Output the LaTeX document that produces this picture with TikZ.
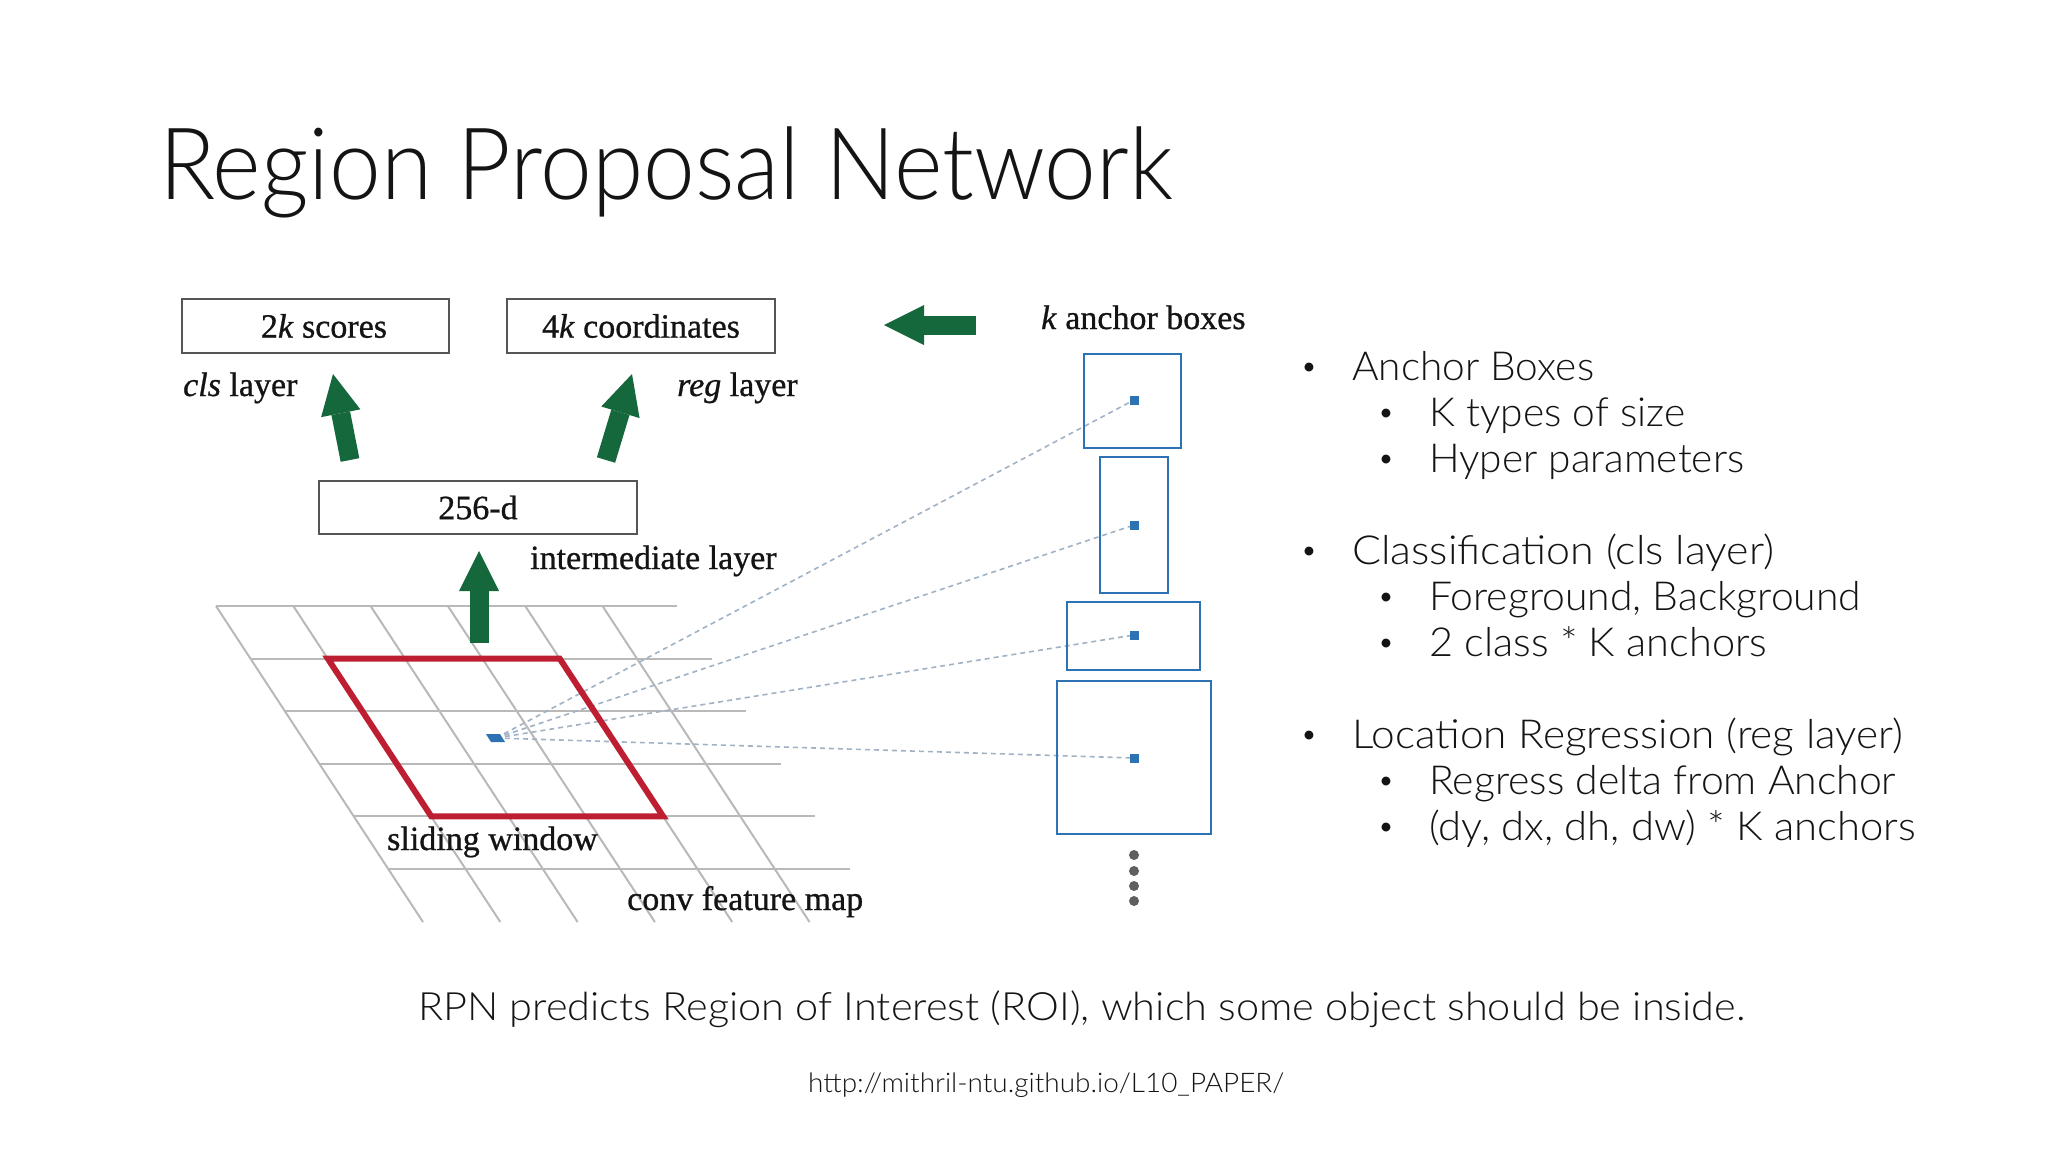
\documentclass[tikz,border=0pt]{standalone}
\usepackage{fontspec}
\usepackage{graphicx}
\setmainfont{Liberation Serif}[RawFeature={embolden=0.8}]
\IfFontExistsTF{Lato Light}{\newfontfamily\slidefont{Lato Light}}{\newfontfamily\slidefont{Lato}}
\usetikzlibrary{arrows.meta}
\definecolor{rpngreen}{RGB}{20,104,60}
\definecolor{winred}{RGB}{190,30,50}
\definecolor{anchorblue}{RGB}{45,115,180}
\definecolor{dashblue}{RGB}{160,178,198}
\definecolor{gridgray}{RGB}{185,185,185}
\definecolor{boxgray}{RGB}{85,85,85}
\definecolor{dotgray}{RGB}{95,95,95}
\definecolor{inkblack}{RGB}{20,20,20}
\newcommand\fitw[2]{\resizebox{#1pt}{\height}{#2}}
\begin{document}
\begin{tikzpicture}[x=1pt,y=1pt,
  serif/.style={font=\fontsize{34}{40}\selectfont, text=inkblack, inner sep=0pt},
  figbox/.style={draw=boxgray, line width=2.5pt, inner sep=0pt, font=\fontsize{34}{40}\selectfont, text=inkblack},
  anchorbox/.style={draw=anchorblue, line width=2.5pt, inner sep=0pt},
  centerdot/.style={fill=anchorblue, inner sep=0pt, minimum size=9pt},
  moredot/.style={circle, fill=dotgray, inner sep=0pt, minimum size=10pt},
  fatarrow/.style={draw=rpngreen, line width=19pt, -{Triangle[length=40pt,width=40pt,line width=0pt]}},
  raydash/.style={draw=dashblue, line width=1.6pt, dash pattern=on 5pt off 4pt},
  gridline/.style={draw=gridgray, line width=2pt},
  slidetext/.style={anchor=base west, inner sep=0pt, text=inkblack},
]
\fill[white] (0,0) rectangle (2048,-1152);
\useasboundingbox (0,0) rectangle (2048,-1152);

% title
\node[slidetext] (title) at (159,-199) {\fitw{1014}{\slidefont\fontsize{100}{110}\selectfont Region Proposal Network}};

% conv feature map grid
\foreach \i in {0,...,5} {
  \draw[gridline] ({216+34.5*\i},{-606-52.6*\i}) -- ({677+34.5*\i},{-606-52.6*\i});
}
\foreach \j in {0,...,5} {
  \draw[gridline] ({216+77.3*\j},-606) -- ({423+77.3*\j},-922);
}

% rays from sliding window centre to anchor centres
\coordinate (src) at (496,-738);
\coordinate (d1) at (1134,-400);
\coordinate (d2) at (1134,-525);
\coordinate (d3) at (1134,-635);
\coordinate (d4) at (1134,-758);
\foreach \d in {d1,d2,d3,d4} { \draw[raydash] (src) -- (\d); }

% sliding window
\draw[winred, line width=6pt, line join=miter] (327.8,-658.6) -- (559.7,-658.6) -- (663.2,-816.4) -- (431.3,-816.4) -- cycle;
\fill[anchorblue] (486,-734) -- (500,-734) -- (505,-742) -- (491,-742) -- cycle;

% anchor boxes
\node[anchorbox, minimum width=97pt, minimum height=94pt] (a1) at (1132.5,-401) {};
\node[anchorbox, minimum width=68pt, minimum height=136pt] (a2) at (1134,-525) {};
\node[anchorbox, minimum width=133pt, minimum height=68pt] (a3) at (1133.5,-636) {};
\node[anchorbox, minimum width=154pt, minimum height=153pt] (a4) at (1134,-757.5) {};
\foreach \d in {d1,d2,d3,d4} { \node[centerdot] at (\d) {}; }
\foreach \k/\yy in {1/855,2/871,3/886,4/901} { \node[moredot] (m\k) at (1134,-\yy) {}; }

% layer boxes
\node[figbox, minimum width=267pt, minimum height=54pt] (scores) at (315.5,-326) {\hspace*{17pt}2\textit{k} scores};
\node[figbox, minimum width=268pt, minimum height=54pt] (coords) at (641,-326) {4\textit{k} coordinates};
\node[figbox, minimum width=318pt, minimum height=53pt] (inter) at (478,-507.5) {256-d};

% green arrows
\coordinate (c1s) at (350,-460); \coordinate (c1e) at (333,-374);
\coordinate (c2s) at (606,-460); \coordinate (c2e) at (632,-374);
\coordinate (c3s) at (479,-643); \coordinate (c3e) at (479,-551);
\coordinate (c4s) at (976,-325); \coordinate (c4e) at (884,-325);
\draw[fatarrow] (c1s) -- (c1e);
\draw[fatarrow] (c2s) -- (c2e);
\draw[fatarrow] (c3s) -- (c3e);
\draw[fatarrow] (c4s) -- (c4e);

% figure labels
\node[serif, anchor=base west] (clsl) at (183,-396) {\textit{cls} layer};
\node[serif, anchor=base west] (regl) at (677,-396) {\textit{reg} layer};
\node[serif, anchor=base west] (interl) at (530,-569) {intermediate layer};
\node[serif, anchor=base west] (slidel) at (387,-850) {sliding window};
\node[serif, anchor=base west] (convl) at (627,-910) {conv feature map};
\node[serif, anchor=base west] (anchl) at (1041,-329) {\textit{k} anchor boxes};

% bullet list
\begin{scope}[every node/.style={slidetext}]
\foreach \bx/\tx/\yy/\ww/\txt in {
  1309/1352/380/242/{Anchor Boxes},
  1386/1429/426/256/{K types of size},
  1386/1429/472/315/{Hyper parameters},
  1309/1352/564/422/{Classification (cls layer)},
  1386/1429/610/432/{Foreground, Background},
  1386/1429/656/338/{2 class * K anchors},
  1309/1352/748/551/{Location Regression (reg layer)},
  1386/1429/794/467/{Regress delta from Anchor},
  1386/1429/840/487/{(dy, dx, dh, dw) * K anchors}} {
  \node[anchor=base] at (\bx,-\yy+4) {\slidefont\fontsize{30}{34}\selectfont •};
  \node at (\tx,-\yy) {\fitw{\ww}{\slidefont\fontsize{40}{46}\selectfont \txt}};
}
\end{scope}

% caption and source
\node[slidetext] (caption) at (418,-1020) {\fitw{1327}{\slidefont\fontsize{39}{46}\selectfont RPN predicts Region of Interest (ROI), which some object should be inside.}};
\node[slidetext] (url) at (808,-1092) {\fitw{476}{\slidefont\fontsize{27}{32}\selectfont http://mithril-ntu.github.io/L10\_PAPER/}};
\end{tikzpicture}
\end{document}
